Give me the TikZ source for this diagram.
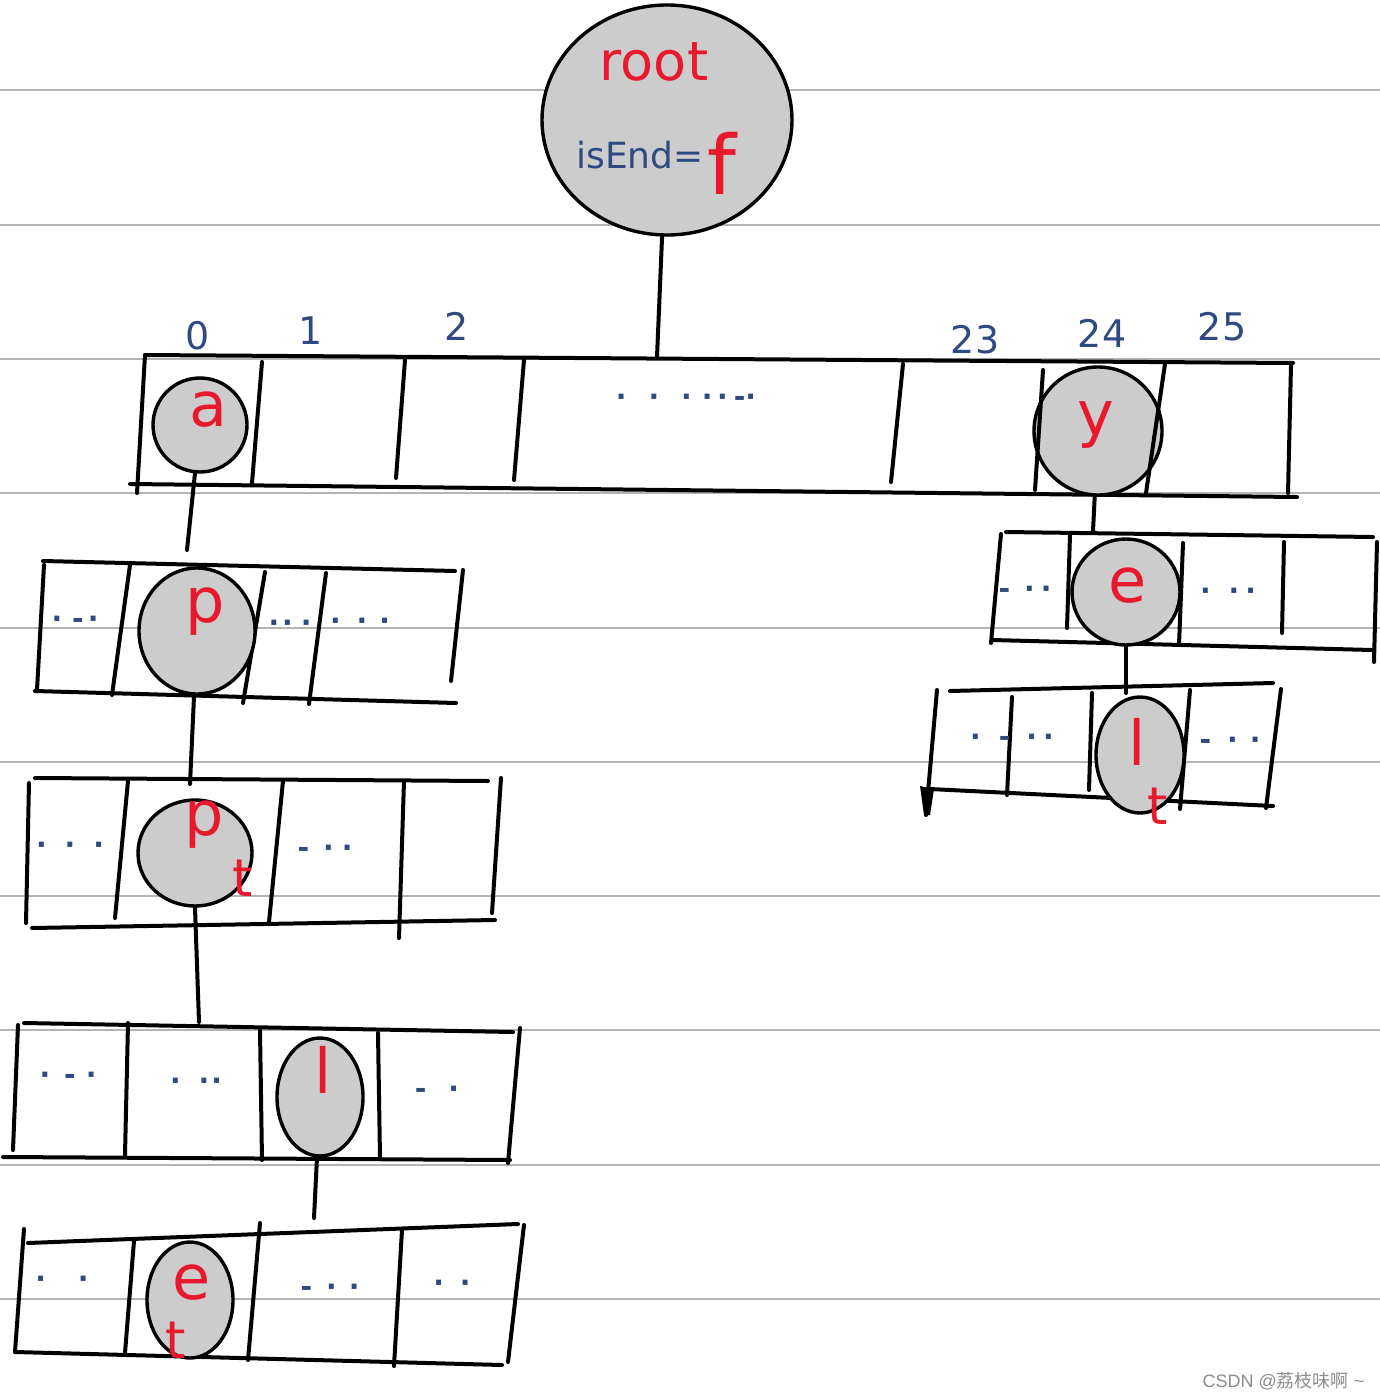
\documentclass[tikz,border=0pt]{standalone}
\usepackage{fontspec}
\setmainfont{DejaVu Sans}
\newfontfamily\cjkfont{Noto Sans CJK SC}
\newfontfamily\wmfont{Liberation Sans}
\usetikzlibrary{shapes.geometric}
\definecolor{ink}{HTML}{E8192C}
\definecolor{pen}{HTML}{2F4A80}
\definecolor{ruleclr}{HTML}{B4B4B4}
\definecolor{ballclr}{HTML}{CCCCCC}
\begin{document}
\begin{tikzpicture}[x=1pt,y=-1pt,
  edge/.style={line width=4pt, line cap=round},
  ruleline/.style={draw=ruleclr, line width=1.4pt},
  ball/.style={ellipse, draw, fill=ballclr, line width=3.4pt, inner sep=0pt},
  redtxt/.style={text=ink, inner sep=0pt},
  bluetxt/.style={text=pen, inner sep=0pt},
  idx/.style={bluetxt, font=\fontsize{38}{40}\selectfont},
  dotstxt/.style={bluetxt, font=\bfseries\fontsize{28}{30}\selectfont},
  letter/.style={redtxt, font=\fontsize{62}{66}\selectfont},
  subt/.style={redtxt, font=\fontsize{52}{56}\selectfont}
]
% page
\fill[white] (0,0) rectangle (1380,1400);
\useasboundingbox (0,0) rectangle (1380,1400);
% ruled paper lines
\foreach \yy in {90,225,359,493,628,762,896,1030,1165,1299}
  \draw[ruleline] (0,\yy) -- (1380,\yy);

% ---------- root ----------
\node[ball, minimum width=250, minimum height=230] (root) at (667,120) {};
\node[redtxt, font=\fontsize{54}{60}\selectfont] (rootlbl) at (654,62) {root};
\node[bluetxt, font=\fontsize{36}{40}\selectfont, anchor=east] (isend) at (704,155) {isEnd=};
\node[redtxt, font=\fontsize{82}{90}\selectfont] (fval) at (722,163) {f};

% ---------- top array ----------
\draw[edge] (145,355) -- (1293,363);
\draw[edge] (130,484) -- (1297,497);
\draw[edge] (145,355) -- (137,493);
\draw[edge] (262,362) -- (252,483);
\draw[edge] (405,360) -- (396,478);
\draw[edge] (524,360) -- (514,480);
\draw[edge] (903,364) -- (891,482);
\draw[edge] (1291,365) -- (1288,493);
\coordinate (topArr) at (657,357);
\node[idx] (i0) at (198,336) {0};
\node[idx] (i1) at (311,331) {1};
\node[idx] (i2) at (457,326) {2};
\node[idx] (i23) at (975,340) {23};
\node[idx] (i24) at (1102,333) {24};
\node[idx] (i25) at (1222,327) {25};
\node[dotstxt] (dtop) at (686,400) {·\hspace{22pt}·\hspace{22pt}·\hspace{10pt}·\,·\hspace{6pt}-·};
\node[ball, minimum width=94, minimum height=94] (a) at (200,425) {};
\node[letter] (alab) at (208,410) {a};
\node[ball, minimum width=128, minimum height=128] (y) at (1098,431) {};
\draw[edge] (1043,370) -- (1035,490);
\draw[edge] (1165,364) -- (1146,493);
\node[letter] (ylab) at (1096,425) {y};

% ---------- array p ----------
\draw[edge] (43,561) -- (455,571);
\draw[edge] (35,691) -- (456,703);
\draw[edge] (44,565) -- (37,690);
\draw[edge] (130,565) -- (112,695);
\draw[edge] (265,572) -- (243,703);
\draw[edge] (326,573) -- (309,704);
\draw[edge] (463,570) -- (451,681);
\coordinate (pArr) at (187,550);
\node[dotstxt] (dp1) at (75,622) {·\hspace{10pt}-\hspace{4pt}·};
\node[dotstxt] (dp2) at (290,626) {·\hspace{3pt}·\hspace{8pt}·};
\node[dotstxt] (dp3) at (360,624) {·\hspace{16pt}·\hspace{12pt}·};
\node[ball, minimum width=116, minimum height=126] (p) at (197,631) {};
\node[letter] (plab) at (205,612) {p};

% ---------- array pt ----------
\draw[edge] (35,778) -- (488,781);
\draw[edge] (32,928) -- (495,920);
\draw[edge] (29,783) -- (26,923);
\draw[edge] (128,781) -- (115,918);
\draw[edge] (283,781) -- (269,922);
\draw[edge] (404,781) -- (399,938);
\draw[edge] (501,778) -- (492,913);
\coordinate (ptArr) at (190,784);
\node[dotstxt] (dpt1) at (70,848) {·\hspace{18pt}·\hspace{18pt}·};
\node[dotstxt] (dpt2) at (325,851) {-\hspace{14pt}·\hspace{8pt}·};
\node[ball, minimum width=114, minimum height=106] (pt) at (195,853) {};
\node[letter] (ptlab) at (204,825) {p};
\node[subt] (ptt) at (243,878) {t};

% ---------- array l ----------
\draw[edge] (24,1023) -- (513,1032);
\draw[edge] (3,1157) -- (510,1160);
\draw[edge] (18,1025) -- (13,1150);
\draw[edge] (128,1023) -- (125,1155);
\draw[edge] (260,1030) -- (262,1160);
\draw[edge] (378,1033) -- (380,1158);
\draw[edge] (520,1028) -- (508,1163);
\coordinate (lArr) at (199,1022);
\node[dotstxt] (dl1) at (68,1078) {·\hspace{14pt}-\hspace{10pt}·};
\node[dotstxt] (dl2) at (196,1084) {·\hspace{18pt}·\hspace{2pt}·};
\node[dotstxt] (dl3) at (437,1092) {-\hspace{22pt}·};
\node[ball, minimum width=86, minimum height=118] (l) at (320,1097) {};
\node[letter] (llab) at (323,1070) {l};

% ---------- array e ----------
\draw[edge] (28,1243) -- (518,1224);
\draw[edge] (15,1352) -- (502,1365);
\draw[edge] (24,1229) -- (15,1352);
\draw[edge] (134,1241) -- (125,1353);
\draw[edge] (260,1223) -- (248,1360);
\draw[edge] (402,1230) -- (394,1366);
\draw[edge] (524,1225) -- (508,1362);
\coordinate (eArr) at (314,1218);
\node[dotstxt] (de1) at (62,1282) {·\hspace{32pt}·};
\node[dotstxt] (de2) at (330,1290) {-\hspace{14pt}·\hspace{12pt}·};
\node[dotstxt] (de3) at (452,1286) {·\hspace{16pt}·};
\node[ball, minimum width=86, minimum height=116] (e) at (190,1300) {};
\node[letter] (elab) at (192,1283) {e};
\node[subt] (et) at (176,1340) {t};

% ---------- array e2 (right) ----------
\draw[edge] (1006,532) -- (1373,537);
\draw[edge] (992,640) -- (1372,650);
\draw[edge] (1001,534) -- (991,643);
\draw[edge] (1070,535) -- (1067,628);
\draw[edge] (1183,543) -- (1179,645);
\draw[edge] (1284,542) -- (1282,633);
\draw[edge] (1377,542) -- (1374,662);
\coordinate (e2Arr) at (1093,531);
\node[dotstxt] (de21) at (1025,592) {-\hspace{14pt}·\hspace{6pt}·};
\node[dotstxt] (de22) at (1228,594) {·\hspace{18pt}·\hspace{6pt}·};
\node[ball, minimum width=108, minimum height=106] (e2) at (1126,592) {};
\node[letter] (e2lab) at (1128,586) {e};

% ---------- array l2 (right) ----------
\draw[edge] (950,691) -- (1273,683);
\draw[edge] (930,789) -- (1273,806);
\draw[edge] (937,690) -- (926,815);
\draw[edge] (1012,697) -- (1007,795);
\draw[edge] (1092,693) -- (1089,790);
\draw[edge] (1190,690) -- (1180,809);
\draw[edge] (1281,689) -- (1266,808);
\fill (920,786) -- (934,789) -- (930,815) -- (924,815) -- cycle;
\coordinate (l2Arr) at (1126,693);
\node[dotstxt] (dl21) at (1012,740) {·\hspace{18pt}-\hspace{16pt}·\hspace{6pt}·};
\node[dotstxt] (dl22) at (1230,743) {-\hspace{16pt}·\hspace{12pt}·};
\node[ball, minimum width=88, minimum height=116] (l2) at (1140,755) {};
\node[letter] (l2lab) at (1137,742) {l};
\node[subt] (l2t) at (1158,806) {t};

% ---------- connectors ----------
\draw[edge] (root) -- (topArr);
\draw[edge] (a) -- (pArr);
\draw[edge] (p) -- (ptArr);
\draw[edge] (pt.south) -- (lArr);
\draw[edge] (l) -- (eArr);
\draw[edge] (y) -- (e2Arr);
\draw[edge] (e2) -- (l2Arr);

% watermark
\node[text=black!45, font=\wmfont\fontsize{18}{20}\selectfont, anchor=east] (wm) at (1368,1381) {CSDN @{\cjkfont 荔枝味啊} \textasciitilde};
\end{tikzpicture}
\end{document}
